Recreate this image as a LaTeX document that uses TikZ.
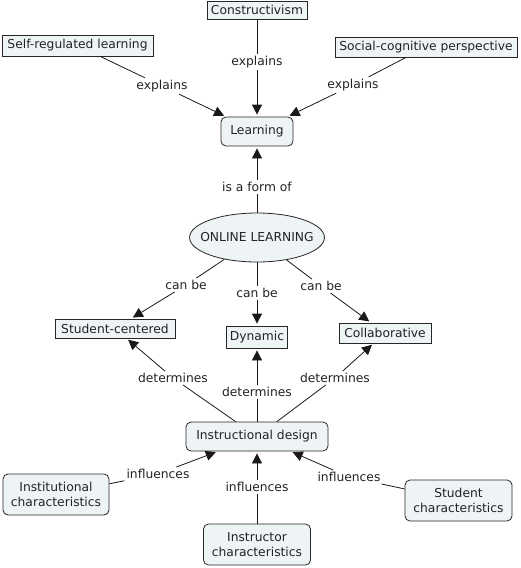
\documentclass[tikz,border=0pt]{standalone}
\usepackage{fontspec}
\setmainfont{DejaVu Sans}
\usetikzlibrary{arrows.meta,shapes.geometric}
\definecolor{cfill}{HTML}{EEF4F6}
\definecolor{ctext}{HTML}{222222}
\tikzset{
  x=1pt,y=-1pt,
  every node/.style={font=\fontsize{12.3}{15}\selectfont, text=ctext},
  concept/.style={draw=black!85, line width=0.8pt, fill=cfill, inner sep=0pt, align=center},
  sqbox/.style={concept},
  rbox/.style={concept, rounded corners=5pt},
  ovalbox/.style={concept, ellipse, inner xsep=-9pt, inner ysep=0pt},
  lbl/.style={inner sep=2pt},
  link/.style={draw=black!90, line width=0.8pt},
  arr/.style={link, -{Triangle[length=10pt,width=10pt]}, shorten >=2pt},
}
\begin{document}
\begin{tikzpicture}
\useasboundingbox (0,0) rectangle (521,568);
% concepts
\node[sqbox, minimum width=100, minimum height=18] (cons) at (257,10) {Constructivism};
\node[sqbox, minimum width=151, minimum height=21] (srl) at (77.5,45.5) {Self-regulated learning};
\node[sqbox, minimum width=182, minimum height=20] (scp) at (426,47) {Social-cognitive perspective};
\node[rbox, minimum width=72, minimum height=29] (learn) at (257,131.5) {Learning};
\node[ovalbox, minimum width=133, minimum height=49] (ol) at (257,237.5) {ONLINE LEARNING};
\node[sqbox, minimum width=120, minimum height=19] (sc) at (115,328.5) {Student-centered};
\node[sqbox, minimum width=61, minimum height=22] (dyn) at (257,337) {Dynamic};
\node[sqbox, minimum width=92, minimum height=20] (col) at (385,333) {Collaborative};
\node[rbox, minimum width=142, minimum height=29] (id) at (257,436.5) {Instructional design};
\node[rbox, minimum width=106, minimum height=41] (inst) at (56,494.5) {Institutional\\characteristics};
\node[rbox, minimum width=107, minimum height=41] (instr) at (257,544.5) {Instructor\\characteristics};
\node[rbox, minimum width=107, minimum height=41] (stu) at (458.5,500.5) {Student\\characteristics};
% linking phrases
\node[lbl] (e1) at (162,86) {explains};
\node[lbl] (e2) at (257,62) {explains};
\node[lbl] (e3) at (353,85) {explains};
\node[lbl] (f1) at (257,187) {is a form of};
\node[lbl] (c1) at (186,285) {can be};
\node[lbl] (c2) at (257,293) {can be};
\node[lbl] (c3) at (321,286) {can be};
\node[lbl] (d1) at (173,378) {determines};
\node[lbl] (d2) at (257,392) {determines};
\node[lbl] (d3) at (335,378) {determines};
\node[lbl] (i1) at (158,474) {influences};
\node[lbl] (i2) at (257,487) {influences};
\node[lbl] (i3) at (349,477) {influences};
% connectors
\draw[link] (srl) -- (e1); \draw[arr] (e1) -- (learn);
\draw[link] (cons) -- (e2); \draw[arr] (e2) -- (learn);
\draw[link] (scp) -- (e3); \draw[arr] (e3) -- (learn);
\draw[link] (ol) -- (f1); \draw[arr] (f1) -- (learn);
\draw[link] (ol) -- (c1); \draw[arr] (c1) -- (sc);
\draw[link] (ol) -- (c2); \draw[arr] (c2) -- (dyn);
\draw[link] (ol) -- (c3); \draw[arr] (c3) -- (col);
\draw[link] (id) -- (d1); \draw[arr] (d1) -- (sc);
\draw[link] (id) -- (d2); \draw[arr] (d2) -- (dyn);
\draw[link] (id) -- (d3); \draw[arr] (d3) -- (col);
\draw[link] (inst) -- (i1); \draw[arr] (i1) -- (id);
\draw[link] (instr) -- (i2); \draw[arr] (i2) -- (id);
\draw[link] (stu) -- (i3); \draw[arr] (i3) -- (id);
\end{tikzpicture}
\end{document}
